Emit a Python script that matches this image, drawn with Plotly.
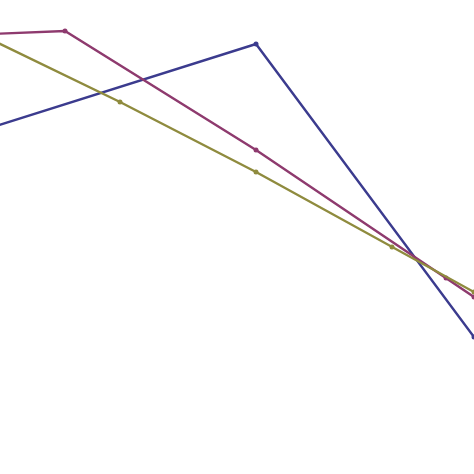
import plotly.graph_objects as go

# values (x across, y up from the bottom);
# the first point of each line sits just past the left edge
blue_x = [-10, 256, 474]
blue_y = [346, 430, 137]

purple_x = [-10, 65, 256, 446, 474]
purple_y = [440, 443, 324, 196, 177]

olive_x = [-10, 120, 256, 392, 474]
olive_y = [435, 372, 302, 227, 182]

series = [
    ("blue", blue_x, blue_y, "#3b3b8e"),
    ("purple", purple_x, purple_y, "#8e3a6e"),
    ("olive", olive_x, olive_y, "#8f8b3e"),
]

fig = go.Figure()
for name, xs, ys, color in series:
    fig.add_trace(go.Scatter(
        x=xs, y=ys, name=name, mode="lines+markers",
        line=dict(color=color, width=2.4),
        marker=dict(color=color, size=5),
    ))

fig.update_layout(
    width=474, height=474,
    margin=dict(l=0, r=0, t=0, b=0),
    paper_bgcolor="white", plot_bgcolor="white",
    showlegend=False,
    xaxis=dict(range=[0, 474], visible=False),
    yaxis=dict(range=[0, 474], visible=False),
)

# drop the page's default body margin so the plot fills the window
fig.write_html(
    "out.html",
    config={"displayModeBar": False},
    post_script="document.body.style.margin='0';document.body.style.overflow='hidden';",
)
